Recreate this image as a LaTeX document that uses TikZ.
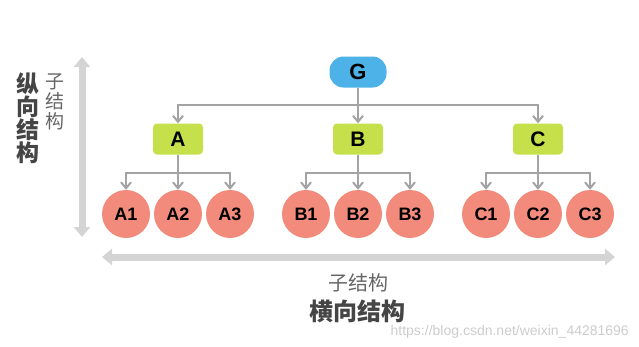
\documentclass[tikz,border=0pt]{standalone}
\usepackage{fontspec}
\setmainfont{Liberation Sans}
\newfontfamily\cjk{Noto Sans CJK SC}
\usetikzlibrary{arrows.meta}
\definecolor{rootblue}{HTML}{4DB2E8}
\definecolor{midgreen}{HTML}{C6E04C}
\definecolor{leafred}{HTML}{F28B7B}
\definecolor{linegray}{HTML}{A3A3A3}
\definecolor{axisgray}{HTML}{D4D4D4}
\definecolor{darktext}{HTML}{454545}
\definecolor{subtext}{HTML}{666666}
\definecolor{markgray}{HTML}{CCCCCC}

\begin{document}
\begin{tikzpicture}[x=1pt,y=-1pt,
    root/.style={fill=rootblue,rounded corners=14pt,minimum width=57pt,minimum height=31pt,
      inner sep=0pt,font=\bfseries\fontsize{22}{22}\selectfont},
    mid/.style={fill=midgreen,rounded corners=4pt,minimum width=50pt,minimum height=31pt,
      inner sep=0pt,font=\bfseries\fontsize{21}{21}\selectfont},
    leaf/.style={circle,fill=leafred,minimum size=48pt,inner sep=0pt,
      font=\bfseries\fontsize{18}{18}\selectfont},
    conn/.style={draw=linegray,line width=2pt,-{Straight Barb[length=6pt,width=10pt]}},
    axis/.style={draw=axisgray,line width=7pt,
      {Triangle[length=10pt,width=16pt]}-{Triangle[length=10pt,width=16pt]}}]
  \useasboundingbox (0,0) rectangle (639,346);
  % tree
  \node[root] (G) at (358,72) {G};
  \foreach \p/\x in {A/178,B/358,C/538}{
    \node[mid] (\p) at (\x,139) {\p};
    \draw[conn] (G.south) -- ++(0,17.5) -| (\p.north);
    \foreach \i/\dx in {1/-52,2/0,3/52}{
      \node[leaf] (\p\i) at (\x+\dx,214) {\p\i};
      \draw[conn] (\p.south) -- ++(0,18.5) -| (\p\i.north);
    }
  }
  % axes
  \coordinate (vtop) at (82,57);
  \coordinate (vbot) at (82,237);
  \draw[axis] (vtop) -- (vbot);
  \coordinate (hleft) at (102,257);
  \coordinate (hright) at (615,257);
  \draw[axis] (hleft) -- (hright);
  % labels
  \node[font=\cjk\bfseries\fontsize{23}{23}\selectfont,text=darktext,align=center]
    (vlabel) at (28,118) {纵\\向\\结\\构};
  \node[font=\cjk\fontsize{19}{20}\selectfont,text=subtext,align=center]
    (vsub) at (55,102) {子\\结\\构};
  \node[font=\cjk\fontsize{20}{20}\selectfont,text=subtext] (hsub) at (358,283) {子结构};
  \node[font=\cjk\bfseries\fontsize{24}{24}\selectfont,text=darktext] (hlabel) at (357,311) {横向结构};
  \node[anchor=east,font=\fontsize{14}{14}\selectfont,text=markgray,inner sep=0pt]
    (mark) at (629,332) {https://blog.csdn.net/weixin\_44281696};
\end{tikzpicture}
\end{document}
